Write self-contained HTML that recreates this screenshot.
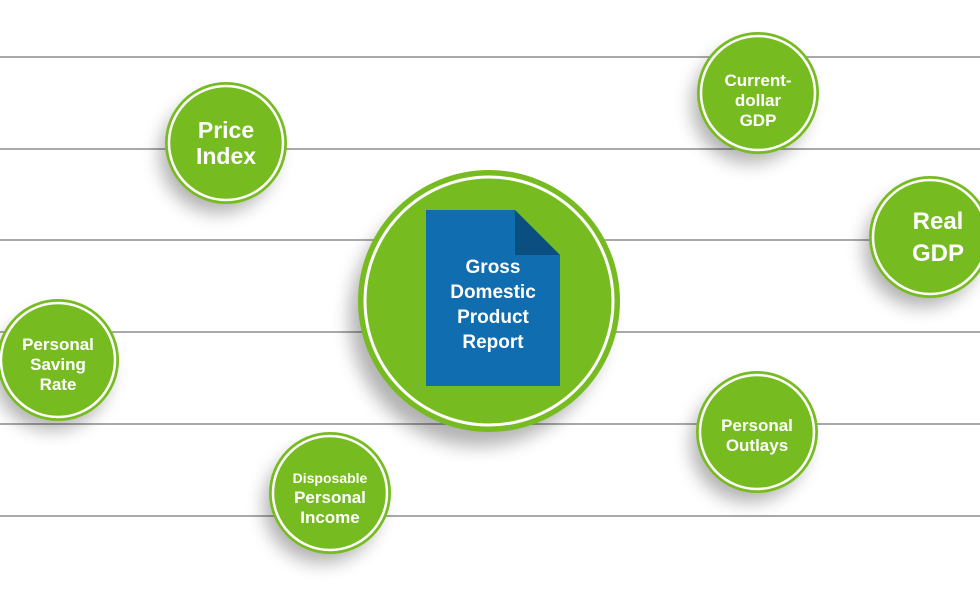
<!DOCTYPE html>
<html><head><meta charset="utf-8"><style>
html,body{margin:0;padding:0;background:#fff;}
svg{display:block}
text{font-family:"Liberation Sans",sans-serif;fill:#fff;text-anchor:middle;font-weight:bold}
</style></head><body>
<svg width="980" height="600" viewBox="0 0 980 600">
<defs>
<filter id="sh" x="-50%" y="-50%" width="200%" height="200%"><feGaussianBlur stdDeviation="9"/></filter>
</defs>
<g stroke="#a9a9a9" stroke-width="2">
<line x1="0" y1="57" x2="980" y2="57"/>
<line x1="0" y1="149" x2="980" y2="149"/>
<line x1="0" y1="240" x2="980" y2="240"/>
<line x1="0" y1="332" x2="980" y2="332"/>
<line x1="0" y1="424" x2="980" y2="424"/>
<line x1="0" y1="516" x2="980" y2="516"/>
</g>
<g fill="#000" opacity="0.3" filter="url(#sh)">
<circle cx="218" cy="155" r="58"/>
<circle cx="750" cy="105" r="58"/>
<circle cx="922" cy="249" r="58"/>
<circle cx="52" cy="372" r="58"/>
<circle cx="322" cy="505" r="58"/>
<circle cx="749" cy="444" r="58"/>
<circle cx="478" cy="318" r="128"/>
</g>
<g fill="#76bc21">
<circle cx="226" cy="143" r="61"/>
<circle cx="758" cy="93" r="61"/>
<circle cx="930" cy="237" r="61"/>
<circle cx="58" cy="360" r="61"/>
<circle cx="330" cy="493" r="61"/>
<circle cx="757" cy="432" r="61"/>
<circle cx="489" cy="301" r="131"/>
</g>
<g fill="none" stroke="#fff" stroke-width="2.5">
<circle cx="226" cy="143" r="57"/>
<circle cx="758" cy="93" r="57"/>
<circle cx="930" cy="237" r="57"/>
<circle cx="58" cy="360" r="57"/>
<circle cx="330" cy="493" r="57"/>
<circle cx="757" cy="432" r="57"/>
<circle cx="489" cy="301" r="124" stroke-width="3"/>
</g>
<path d="M426 210 H515 L560 255 V386 H426 Z" fill="#0f6db0"/>
<path d="M515 210 L560 255 H515 Z" fill="#0b4f80"/>
<text x="493" y="273" font-size="19">Gross</text>
<text x="493" y="298" font-size="19">Domestic</text>
<text x="493" y="323" font-size="19">Product</text>
<text x="493" y="348" font-size="19">Report</text>
<text x="226" y="138" font-size="23">Price</text>
<text x="226" y="164" font-size="23">Index</text>
<text x="758" y="86" font-size="17">Current-</text>
<text x="758" y="106" font-size="17">dollar</text>
<text x="758" y="126" font-size="17">GDP</text>
<text x="938" y="229" font-size="24">Real</text>
<text x="938" y="261" font-size="24">GDP</text>
<text x="58" y="350" font-size="17">Personal</text>
<text x="58" y="370" font-size="17">Saving</text>
<text x="58" y="390" font-size="17">Rate</text>
<text x="330" y="483" font-size="14">Disposable</text>
<text x="330" y="503" font-size="17">Personal</text>
<text x="330" y="523" font-size="17">Income</text>
<text x="757" y="431" font-size="17">Personal</text>
<text x="757" y="451" font-size="17">Outlays</text>
</svg>
</body></html>
